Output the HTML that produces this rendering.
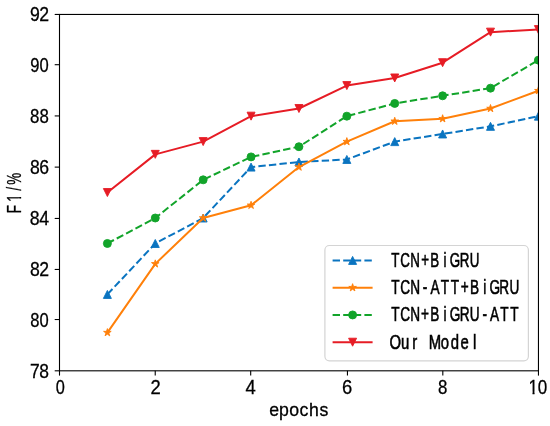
<!DOCTYPE html>
<html><head><meta charset="utf-8"><title>F1 vs epochs</title>
<style>html,body{margin:0;padding:0;background:#fff;width:550px;height:426px;overflow:hidden}svg{display:block}</style>
</head><body>
<svg width="550" height="426" viewBox="0 0 550 426" font-family='"Liberation Sans", Arial, sans-serif' fill="#000">
<rect width="550" height="426" fill="#fff"/>
<defs><clipPath id="ax"><rect x="59.5" y="14.3" width="478.90" height="356.50"/></clipPath><clipPath id="c1_1" clipPathUnits="userSpaceOnUse"><path clip-rule="evenodd" d="M-3000,-3000H3000V3000H-3000ZM636.75,-2.33H641.60V1.50H636.75ZM644.01,-2.33H648.76V1.50H644.01Z"/></clipPath><clipPath id="c1_2" clipPathUnits="userSpaceOnUse"><path clip-rule="evenodd" d="M-3000,-3000H3000V3000H-3000ZM-12.04,-2.33H-7.19V1.50H-12.04ZM-4.78,-2.33H-0.03V1.50H-4.78Z"/></clipPath></defs>
<g clip-path="url(#ax)">
<polyline points="107.39,294.41 155.28,243.48 203.17,218.01 251.06,167.09 298.95,161.99 346.84,159.45 394.73,141.62 442.62,133.98 490.51,126.34 538.40,116.16" fill="none" stroke="#0a74c0" stroke-width="2.0" stroke-linejoin="round" stroke-dasharray="7.4 3.2"/>
<polygon points="107.39,290.41 103.39,298.41 111.39,298.41" fill="#0a74c0" stroke="#0a74c0" stroke-width="0.9" stroke-linejoin="miter"/>
<polygon points="155.28,239.48 151.28,247.48 159.28,247.48" fill="#0a74c0" stroke="#0a74c0" stroke-width="0.9" stroke-linejoin="miter"/>
<polygon points="203.17,214.01 199.17,222.01 207.17,222.01" fill="#0a74c0" stroke="#0a74c0" stroke-width="0.9" stroke-linejoin="miter"/>
<polygon points="251.06,163.09 247.06,171.09 255.06,171.09" fill="#0a74c0" stroke="#0a74c0" stroke-width="0.9" stroke-linejoin="miter"/>
<polygon points="298.95,157.99 294.95,165.99 302.95,165.99" fill="#0a74c0" stroke="#0a74c0" stroke-width="0.9" stroke-linejoin="miter"/>
<polygon points="346.84,155.45 342.84,163.45 350.84,163.45" fill="#0a74c0" stroke="#0a74c0" stroke-width="0.9" stroke-linejoin="miter"/>
<polygon points="394.73,137.62 390.73,145.62 398.73,145.62" fill="#0a74c0" stroke="#0a74c0" stroke-width="0.9" stroke-linejoin="miter"/>
<polygon points="442.62,129.98 438.62,137.98 446.62,137.98" fill="#0a74c0" stroke="#0a74c0" stroke-width="0.9" stroke-linejoin="miter"/>
<polygon points="490.51,122.34 486.51,130.34 494.51,130.34" fill="#0a74c0" stroke="#0a74c0" stroke-width="0.9" stroke-linejoin="miter"/>
<polygon points="538.40,112.16 534.40,120.16 542.40,120.16" fill="#0a74c0" stroke="#0a74c0" stroke-width="0.9" stroke-linejoin="miter"/>
<polyline points="107.39,332.60 155.28,263.85 203.17,218.01 251.06,205.28 298.95,167.09 346.84,141.62 394.73,121.25 442.62,118.70 490.51,108.52 538.40,90.69" fill="none" stroke="#ff800a" stroke-width="2.0" stroke-linejoin="round"/>
<polygon points="107.39,328.60 106.49,331.37 103.59,331.37 105.94,333.08 105.04,335.84 107.39,334.13 109.74,335.84 108.84,333.08 111.19,331.37 108.29,331.37" fill="#ff800a" stroke="#ff800a" stroke-width="0.9" stroke-linejoin="miter"/>
<polygon points="155.28,259.85 154.38,262.61 151.48,262.61 153.83,264.32 152.93,267.09 155.28,265.38 157.63,267.09 156.73,264.32 159.08,262.61 156.18,262.61" fill="#ff800a" stroke="#ff800a" stroke-width="0.9" stroke-linejoin="miter"/>
<polygon points="203.17,214.01 202.27,216.78 199.37,216.78 201.72,218.49 200.82,221.25 203.17,219.54 205.52,221.25 204.62,218.49 206.97,216.78 204.07,216.78" fill="#ff800a" stroke="#ff800a" stroke-width="0.9" stroke-linejoin="miter"/>
<polygon points="251.06,201.28 250.16,204.05 247.26,204.05 249.61,205.75 248.71,208.52 251.06,206.81 253.41,208.52 252.51,205.75 254.86,204.05 251.96,204.05" fill="#ff800a" stroke="#ff800a" stroke-width="0.9" stroke-linejoin="miter"/>
<polygon points="298.95,163.09 298.05,165.85 295.15,165.85 297.50,167.56 296.60,170.32 298.95,168.61 301.30,170.32 300.40,167.56 302.75,165.85 299.85,165.85" fill="#ff800a" stroke="#ff800a" stroke-width="0.9" stroke-linejoin="miter"/>
<polygon points="346.84,137.62 345.94,140.39 343.04,140.39 345.39,142.09 344.49,144.86 346.84,143.15 349.19,144.86 348.29,142.09 350.64,140.39 347.74,140.39" fill="#ff800a" stroke="#ff800a" stroke-width="0.9" stroke-linejoin="miter"/>
<polygon points="394.73,117.25 393.83,120.01 390.93,120.01 393.28,121.72 392.38,124.49 394.73,122.78 397.08,124.49 396.18,121.72 398.53,120.01 395.63,120.01" fill="#ff800a" stroke="#ff800a" stroke-width="0.9" stroke-linejoin="miter"/>
<polygon points="442.62,114.70 441.72,117.47 438.82,117.47 441.17,119.18 440.27,121.94 442.62,120.23 444.97,121.94 444.07,119.18 446.42,117.47 443.52,117.47" fill="#ff800a" stroke="#ff800a" stroke-width="0.9" stroke-linejoin="miter"/>
<polygon points="490.51,104.52 489.61,107.28 486.71,107.28 489.06,108.99 488.16,111.75 490.51,110.05 492.86,111.75 491.96,108.99 494.31,107.28 491.41,107.28" fill="#ff800a" stroke="#ff800a" stroke-width="0.9" stroke-linejoin="miter"/>
<polygon points="538.40,86.69 537.50,89.46 534.60,89.46 536.95,91.16 536.05,93.93 538.40,92.22 540.75,93.93 539.85,91.16 542.20,89.46 539.30,89.46" fill="#ff800a" stroke="#ff800a" stroke-width="0.9" stroke-linejoin="miter"/>
<polyline points="107.39,243.48 155.28,218.01 203.17,179.82 251.06,156.90 298.95,146.71 346.84,116.16 394.73,103.43 442.62,95.79 490.51,88.15 538.40,60.14" fill="none" stroke="#12a42a" stroke-width="2.0" stroke-linejoin="round" stroke-dasharray="7.4 3.2"/>
<circle cx="107.39" cy="243.48" r="4.00" fill="#12a42a" stroke="#12a42a" stroke-width="0.9"/>
<circle cx="155.28" cy="218.01" r="4.00" fill="#12a42a" stroke="#12a42a" stroke-width="0.9"/>
<circle cx="203.17" cy="179.82" r="4.00" fill="#12a42a" stroke="#12a42a" stroke-width="0.9"/>
<circle cx="251.06" cy="156.90" r="4.00" fill="#12a42a" stroke="#12a42a" stroke-width="0.9"/>
<circle cx="298.95" cy="146.71" r="4.00" fill="#12a42a" stroke="#12a42a" stroke-width="0.9"/>
<circle cx="346.84" cy="116.16" r="4.00" fill="#12a42a" stroke="#12a42a" stroke-width="0.9"/>
<circle cx="394.73" cy="103.43" r="4.00" fill="#12a42a" stroke="#12a42a" stroke-width="0.9"/>
<circle cx="442.62" cy="95.79" r="4.00" fill="#12a42a" stroke="#12a42a" stroke-width="0.9"/>
<circle cx="490.51" cy="88.15" r="4.00" fill="#12a42a" stroke="#12a42a" stroke-width="0.9"/>
<circle cx="538.40" cy="60.14" r="4.00" fill="#12a42a" stroke="#12a42a" stroke-width="0.9"/>
<polyline points="107.39,192.55 155.28,154.35 203.17,141.62 251.06,116.16 298.95,108.52 346.84,85.60 394.73,77.96 442.62,62.68 490.51,32.13 538.40,29.58" fill="none" stroke="#e61c25" stroke-width="2.0" stroke-linejoin="round"/>
<polygon points="107.39,196.55 103.39,188.55 111.39,188.55" fill="#e61c25" stroke="#e61c25" stroke-width="0.9" stroke-linejoin="miter"/>
<polygon points="155.28,158.35 151.28,150.35 159.28,150.35" fill="#e61c25" stroke="#e61c25" stroke-width="0.9" stroke-linejoin="miter"/>
<polygon points="203.17,145.62 199.17,137.62 207.17,137.62" fill="#e61c25" stroke="#e61c25" stroke-width="0.9" stroke-linejoin="miter"/>
<polygon points="251.06,120.16 247.06,112.16 255.06,112.16" fill="#e61c25" stroke="#e61c25" stroke-width="0.9" stroke-linejoin="miter"/>
<polygon points="298.95,112.52 294.95,104.52 302.95,104.52" fill="#e61c25" stroke="#e61c25" stroke-width="0.9" stroke-linejoin="miter"/>
<polygon points="346.84,89.60 342.84,81.60 350.84,81.60" fill="#e61c25" stroke="#e61c25" stroke-width="0.9" stroke-linejoin="miter"/>
<polygon points="394.73,81.96 390.73,73.96 398.73,73.96" fill="#e61c25" stroke="#e61c25" stroke-width="0.9" stroke-linejoin="miter"/>
<polygon points="442.62,66.68 438.62,58.68 446.62,58.68" fill="#e61c25" stroke="#e61c25" stroke-width="0.9" stroke-linejoin="miter"/>
<polygon points="490.51,36.13 486.51,28.13 494.51,28.13" fill="#e61c25" stroke="#e61c25" stroke-width="0.9" stroke-linejoin="miter"/>
<polygon points="538.40,33.58 534.40,25.58 542.40,25.58" fill="#e61c25" stroke="#e61c25" stroke-width="0.9" stroke-linejoin="miter"/>
</g>
<rect x="59.5" y="14.45" width="478.96" height="356.36" fill="none" stroke="#000" stroke-width="1.1"/>
<line x1="54.70" y1="370.81" x2="59.50" y2="370.81" stroke="#000" stroke-width="1.1"/>
<text transform="translate(0,377.81) scale(0.8497,1)" x="35.25 46.32" y="0" font-size="20.5" stroke="#000" stroke-width="0.3">78</text>
<line x1="54.70" y1="319.52" x2="59.50" y2="319.52" stroke="#000" stroke-width="1.1"/>
<text transform="translate(0,326.51) scale(0.8084,1)" x="37.35 48.98" y="0" font-size="20.5" stroke="#000" stroke-width="0.3">80</text>
<line x1="54.70" y1="269.45" x2="59.50" y2="269.45" stroke="#000" stroke-width="1.1"/>
<text transform="translate(0,275.86) scale(0.8592,1)" x="34.80 45.74" y="0" font-size="20.5" stroke="#000" stroke-width="0.3">82</text>
<line x1="54.70" y1="218.45" x2="59.50" y2="218.45" stroke="#000" stroke-width="1.1"/>
<text transform="translate(0,224.56) scale(0.8636,1)" x="34.60 45.55" y="0" font-size="20.5" stroke="#000" stroke-width="0.3">84</text>
<line x1="54.70" y1="167.12" x2="59.50" y2="167.12" stroke="#000" stroke-width="1.1"/>
<text transform="translate(0,174.01) scale(0.8593,1)" x="34.80 45.67" y="0" font-size="20.5" stroke="#000" stroke-width="0.3">86</text>
<line x1="54.70" y1="115.93" x2="59.50" y2="115.93" stroke="#000" stroke-width="1.1"/>
<text transform="translate(0,123.01) scale(0.8213,1)" x="36.67 48.12" y="0" font-size="20.5" stroke="#000" stroke-width="0.3">88</text>
<line x1="54.70" y1="64.70" x2="59.50" y2="64.70" stroke="#000" stroke-width="1.1"/>
<text transform="translate(0,71.91) scale(0.8094,1)" x="37.30 48.91" y="0" font-size="20.5" stroke="#000" stroke-width="0.3">90</text>
<line x1="54.70" y1="14.45" x2="59.50" y2="14.45" stroke="#000" stroke-width="1.1"/>
<text transform="translate(0,20.56) scale(0.8611,1)" x="34.72 45.63" y="0" font-size="20.5" stroke="#000" stroke-width="0.3">92</text>
<line x1="59.50" y1="370.81" x2="59.50" y2="375.61" stroke="#000" stroke-width="1.1"/>
<text transform="translate(0,394.20) scale(0.7960,1)" x="69.99" y="0" font-size="20.5" stroke="#000" stroke-width="0.3">0</text>
<line x1="155.23" y1="370.81" x2="155.23" y2="375.61" stroke="#000" stroke-width="1.1"/>
<text transform="translate(0,394.20) scale(0.8994,1)" x="167.41" y="0" font-size="20.5" stroke="#000" stroke-width="0.3">2</text>
<line x1="250.69" y1="370.81" x2="250.69" y2="375.61" stroke="#000" stroke-width="1.1"/>
<text transform="translate(0,394.20) scale(0.9003,1)" x="272.61" y="0" font-size="20.5" stroke="#000" stroke-width="0.3">4</text>
<line x1="347.45" y1="370.81" x2="347.45" y2="375.61" stroke="#000" stroke-width="1.1"/>
<text transform="translate(0,394.20) scale(0.8986,1)" x="380.67" y="0" font-size="20.5" stroke="#000" stroke-width="0.3">6</text>
<line x1="442.81" y1="370.81" x2="442.81" y2="375.61" stroke="#000" stroke-width="1.1"/>
<text transform="translate(0,394.20) scale(0.8213,1)" x="533.41" y="0" font-size="20.5" stroke="#000" stroke-width="0.3">8</text>
<line x1="538.46" y1="370.81" x2="538.46" y2="375.61" stroke="#000" stroke-width="1.1"/>
<text transform="translate(0,394.20) scale(0.8300,1)" x="636.75 647.92" y="0" font-size="20.5" stroke="#000" stroke-width="0.3" clip-path="url(#c1_1)">10</text>
<text transform="translate(0,416.20) scale(0.9820,1)" x="274.29 284.19 294.52 305.00 314.72 325.46" y="0" font-size="18.0" stroke="#000" stroke-width="0.3">epochs</text>
<g transform="translate(20.9,193.8) rotate(-90)"><text transform="translate(0,0.00) scale(0.6600,1)" x="-29.42 -12.05 4.73 13.61" y="0" font-size="20.5" stroke="#000" stroke-width="0.3" clip-path="url(#c1_2)">F1/%</text></g>
<rect x="324.9" y="245.5" width="203.50" height="115.30" rx="4.5" ry="4.5" fill="#fff" fill-opacity="0.8" stroke="#d4d4d4" stroke-width="1.2"/>
<line x1="332.6" y1="260.40" x2="372.6" y2="260.40" stroke="#0a74c0" stroke-width="2.0" stroke-dasharray="7.4 3.2"/>
<polygon points="352.60,256.40 348.60,264.40 356.60,264.40" fill="#0a74c0" stroke="#0a74c0" stroke-width="0.9" stroke-linejoin="miter"/>
<text transform="translate(0,266.80) scale(0.6516,1)" x="600.33 614.29 629.66 646.32 660.41 680.51 690.30 705.49 721.10" y="0" font-size="20.5" stroke="#000" stroke-width="0.6">TCN+BiGRU</text>
<line x1="332.6" y1="287.67" x2="372.6" y2="287.67" stroke="#ff800a" stroke-width="2.0"/>
<polygon points="352.60,283.67 351.70,286.43 348.80,286.43 351.15,288.14 350.25,290.91 352.60,289.20 354.95,290.91 354.05,288.14 356.40,286.43 353.50,286.43" fill="#ff800a" stroke="#ff800a" stroke-width="0.9" stroke-linejoin="miter"/>
<text transform="translate(0,294.07) scale(0.6649,1)" x="588.26 601.92 616.98 635.91 647.42 662.93 677.87 693.08 706.86 726.66 736.15 751.04 766.34" y="0" font-size="20.5" stroke="#000" stroke-width="0.6">TCN-ATT+BiGRU</text>
<line x1="332.6" y1="314.94" x2="372.6" y2="314.94" stroke="#12a42a" stroke-width="2.0" stroke-dasharray="7.4 3.2"/>
<circle cx="352.60" cy="314.94" r="4.00" fill="#12a42a" stroke="#12a42a" stroke-width="0.9"/>
<text transform="translate(0,321.34) scale(0.6649,1)" x="588.26 601.92 616.98 633.34 647.12 666.92 676.40 691.29 706.60 725.52 737.03 752.55 767.48" y="0" font-size="20.5" stroke="#000" stroke-width="0.6">TCN+BiGRU-ATT</text>
<line x1="332.6" y1="342.21" x2="372.6" y2="342.21" stroke="#e61c25" stroke-width="2.0"/>
<polygon points="352.60,346.21 348.60,338.21 356.60,338.21" fill="#e61c25" stroke="#e61c25" stroke-width="0.9" stroke-linejoin="miter"/>
<text transform="translate(0,348.61) scale(0.7259,1)" x="536.51 552.47 567.92 582.67 590.66 607.17 621.08 634.55 651.63" y="0" font-size="20.5" stroke="#000" stroke-width="0.6">Our Model</text>
</svg>
</body></html>
